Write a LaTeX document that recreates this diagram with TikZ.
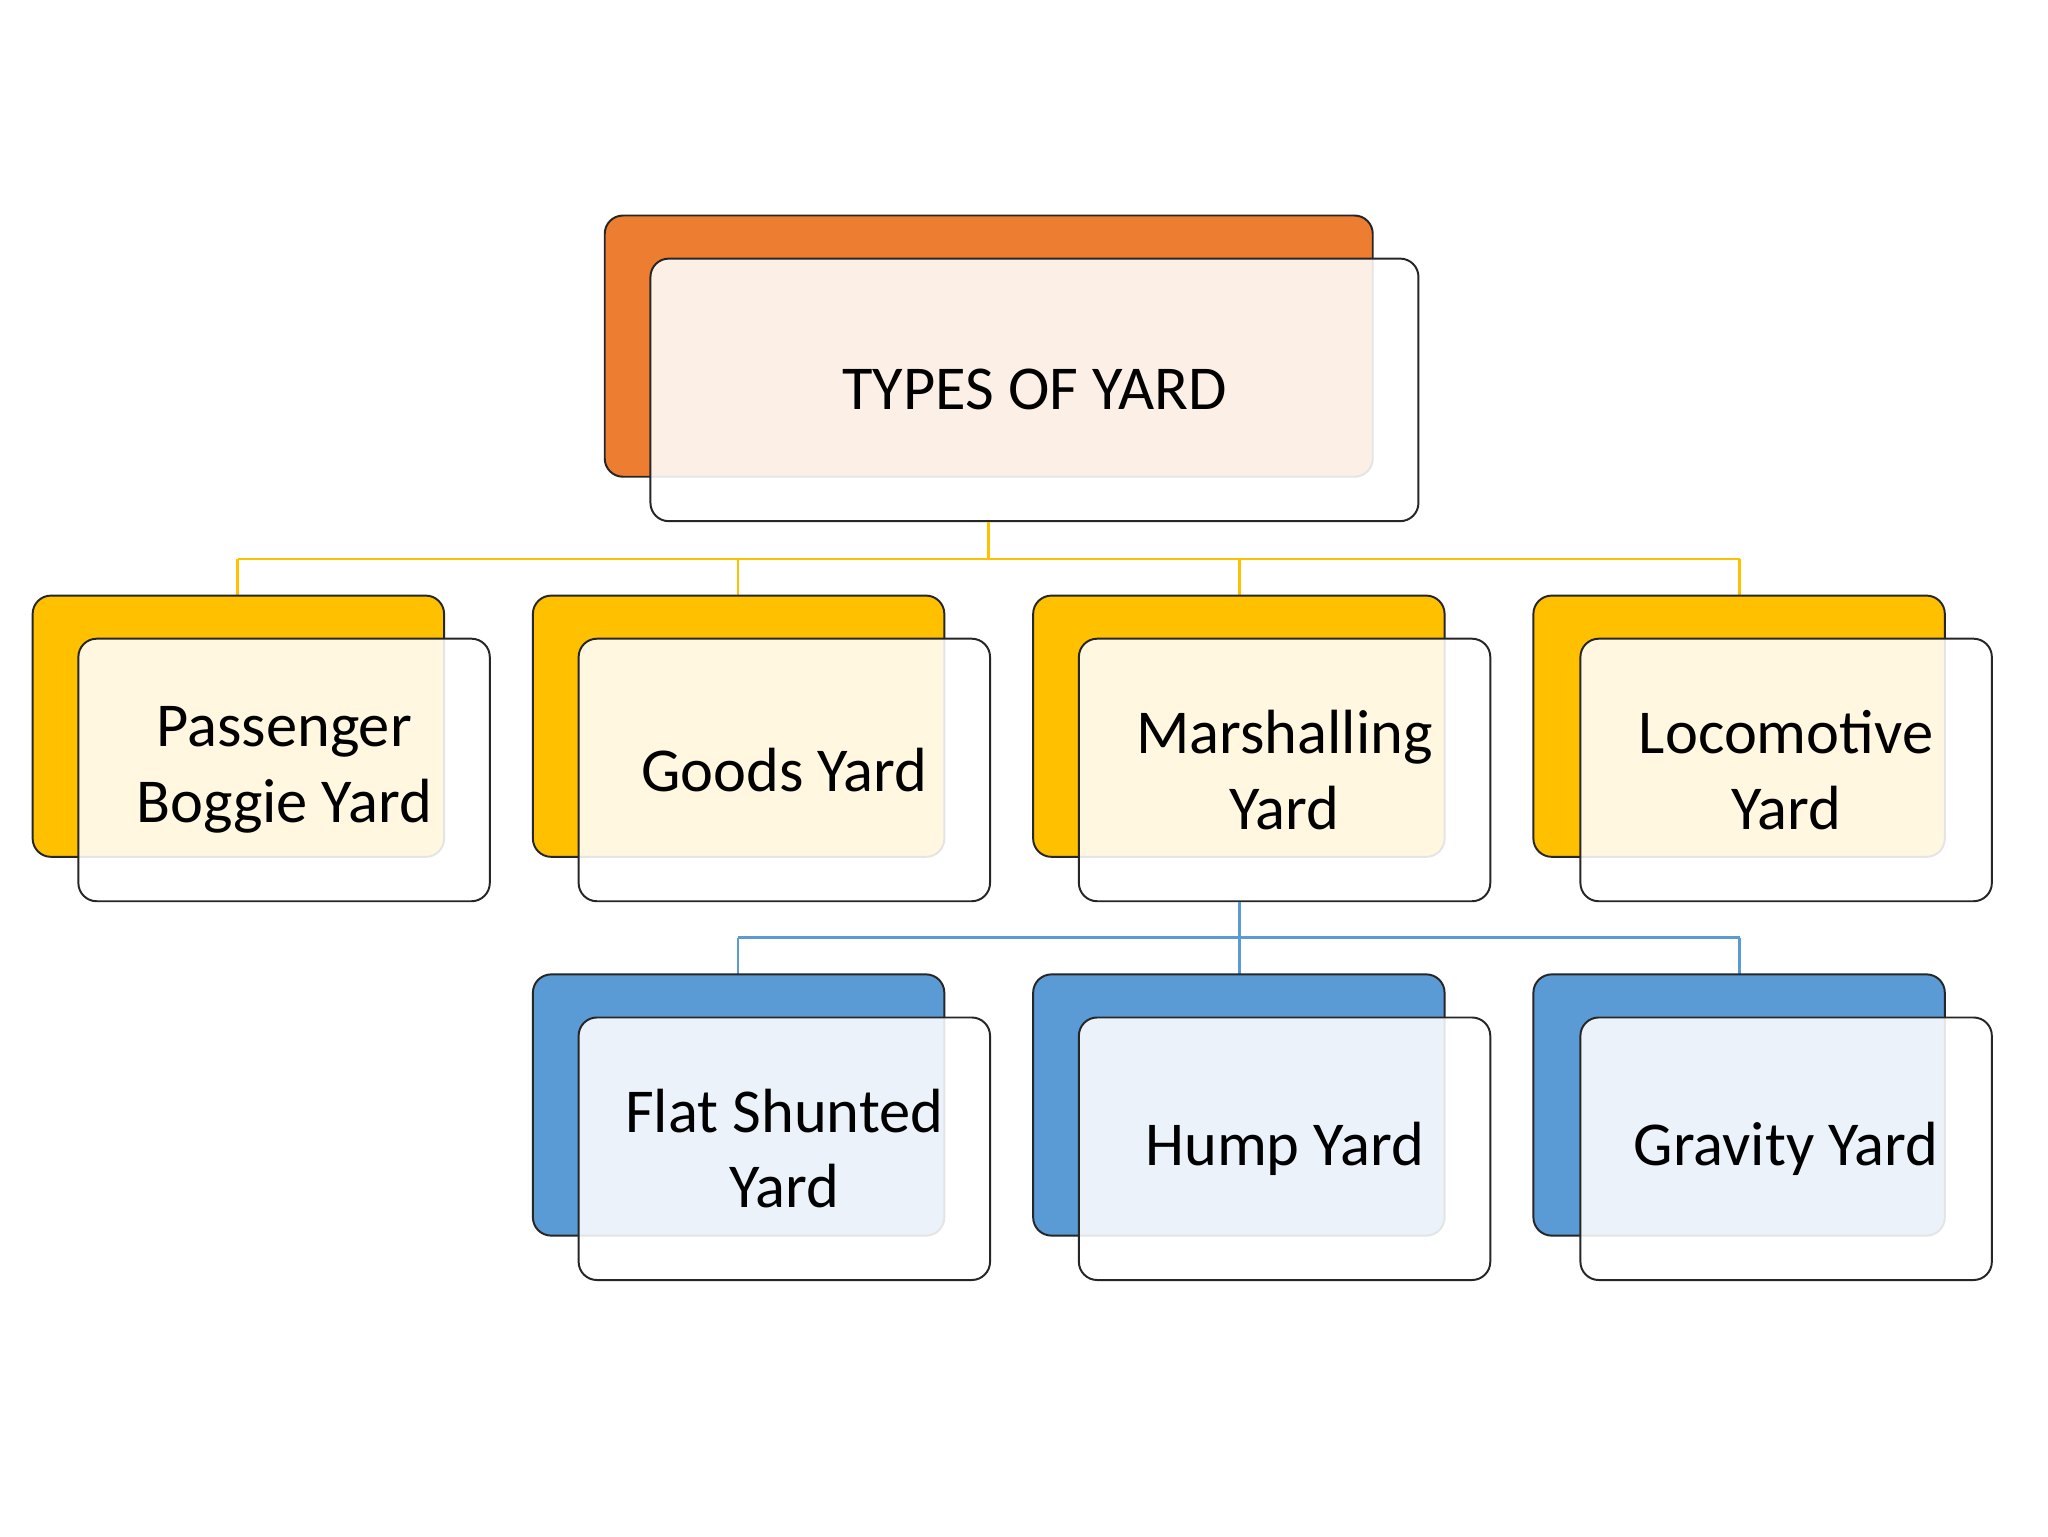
\documentclass[tikz,border=0pt]{standalone}
\usepackage{fontspec}
\setmainfont{Carlito}
\definecolor{corange}{HTML}{ED7D31}
\definecolor{cyellow}{HTML}{FFC000}
\definecolor{cblue}{HTML}{5B9BD5}
\begin{document}
\begin{tikzpicture}[x=1bp,y=-1bp,
  back/.style={draw=black!85,line width=1.5bp,rounded corners=14bp},
  front/.style={draw=black!85,line width=1.5bp,rounded corners=14bp,fill=white,fill opacity=0.88,text opacity=1,minimum width=315bp,minimum height=201bp,align=center,font=\fontsize{48}{58}\selectfont,inner sep=0pt},
  yline/.style={draw=cyellow,line width=2.2bp},
  bline/.style={draw=cblue,line width=2.2bp}]
\useasboundingbox[fill=white] (0,0) rectangle (1568,1176);
\coordinate (j1) at (757,428);
\coordinate (j2) at (949,718);
\draw[back,fill=corange] (463,165) rectangle (1051,365);
\node[front,minimum width=588bp] (top) at (792,298.5) {TYPES OF YARD};
\foreach \x in {182,565,949,1332}{
  \draw[yline] (\x,428) -- (\x,456);
}
\draw[yline] (j1 |- top.south) -- (j1);
\draw[yline] (182,428) -- (1332,428);
\foreach \x in {25,408,791,1174}{
  \draw[back,fill=cyellow] (\x,456) rectangle (\x+315,656);
}
\node[front] (pb) at (217.5,589.5) {Passenger\\Boggie Yard};
\node[front] (gy) at (600.5,589.5) {Goods Yard};
\node[front] (my) at (983.5,589.5) {Marshalling\\Yard};
\node[front] (ly) at (1367.5,589.5) {Locomotive\\Yard};
\draw[bline] (j2 |- my.south) -- (j2);
\draw[bline] (565,718) -- (1332,718);
\foreach \x in {565,949,1332}{ \draw[bline] (\x,718) -- (\x,746); }
\foreach \x in {408,791,1174}{
  \draw[back,fill=cblue] (\x,746) rectangle (\x+315,946);
}
\node[front] (fs) at (600.5,879.5) {Flat Shunted\\Yard};
\node[front] (hy) at (983.5,879.5) {Hump Yard};
\node[front] (gv) at (1367.5,879.5) {Gravity Yard};
\end{tikzpicture}
\end{document}
